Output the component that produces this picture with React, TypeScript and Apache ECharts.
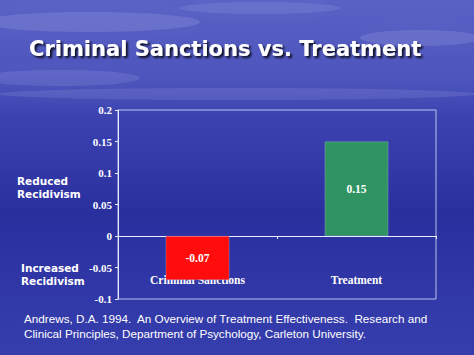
import React, { useEffect, useRef } from "react";
import * as echarts from "echarts";

const categories = ["Criminal Sanctions", "Treatment"];
const values = [-0.07, 0.15];
const barColors = ["#ff0d0d", "#2f9462"];
const yTicks = [-0.1, -0.05, 0, 0.05, 0.1, 0.15, 0.2];

export default function App() {
  const ref = useRef<HTMLDivElement>(null);
  useEffect(() => {
    const chart = echarts.init(ref.current!, undefined, { renderer: "svg" });
    const serif = "'Liberation Serif', 'Times New Roman', serif";
    const sans = "'DejaVu Sans', Verdana, sans-serif";
    const cloud = (cx: number, cy: number, rx: number, ry: number, a: number) => ({
      type: "ellipse", silent: true, shape: { cx, cy, rx, ry },
      style: { fill: `rgba(235,240,255,${a})`, shadowBlur: 18, shadowColor: `rgba(235,240,255,${a})` },
    });
    chart.setOption({
      animation: false,
      backgroundColor: {
        type: "linear", x: 0, y: 0, x2: 0, y2: 1,
        colorStops: [
          { offset: 0, color: "#5a62c6" },
          { offset: 0.22, color: "#4d55bd" },
          { offset: 0.33, color: "#3c43b0" },
          { offset: 0.6, color: "#2a2f9e" },
          { offset: 1, color: "#363ead" },
        ],
      },
      graphic: [
        cloud(90, 22, 110, 10, 0.12),
        cloud(260, 8, 80, 6, 0.1),
        cloud(420, 38, 60, 8, 0.12),
        cloud(60, 78, 80, 8, 0.1),
        cloud(237, 94, 240, 6, 0.1),
        {
          type: "text", left: 29, top: 38,
          style: {
            text: "Criminal Sanctions vs. Treatment",
            fill: "#ffffff", font: `bold 21px ${sans}`,
            textShadowColor: "rgba(0,0,0,0.85)", textShadowBlur: 2, textShadowOffsetX: 2, textShadowOffsetY: 2,
          },
        },
        {
          type: "text", left: 17, top: 174,
          style: { text: "Reduced\nRecidivism", fill: "#ffffff", font: `bold 10.5px ${sans}`, lineHeight: 13.5 },
        },
        {
          type: "text", left: 21, top: 261,
          style: { text: "Increased\nRecidivism", fill: "#ffffff", font: `bold 10.5px ${sans}`, lineHeight: 13.5 },
        },
        {
          type: "text", left: 24, top: 311,
          style: {
            text: "Andrews, D.A. 1994.  An Overview of Treatment Effectiveness.  Research and\nClinical Principles, Department of Psychology, Carleton University.",
            fill: "#ffffff", font: `11.7px 'Liberation Sans', Arial, sans-serif`, lineHeight: 15,
          },
        },
      ],
      grid: {
        left: 118, right: 38, top: 110, bottom: 56,
        show: true, borderColor: "rgba(220,225,255,0.8)", borderWidth: 1,
      },
      xAxis: {
        type: "category",
        data: categories,
        offset: -63,
        axisLine: { onZero: false, lineStyle: { color: "#e8ecff", width: 1 } },
        axisTick: { show: true, length: 3, lineStyle: { color: "#e8ecff" } },
        axisLabel: { margin: 38, color: "#ffffff", fontFamily: serif, fontSize: 11.5, fontWeight: "bold" },
      },
      yAxis: {
        type: "value",
        min: -0.1, max: 0.2, interval: 0.05,
        splitLine: { show: false },
        axisLine: { show: true, lineStyle: { color: "#e8ecff" } },
        axisTick: { show: true, length: 3, lineStyle: { color: "#e8ecff" } },
        axisLabel: {
          color: "#ffffff", fontFamily: serif, fontSize: 11, fontWeight: "bold", margin: 6,
          formatter: (v: number) => {
            const m = yTicks.find((t) => Math.abs(t - v) < 1e-9);
            return String(m !== undefined ? m : +v.toFixed(2));
          },
        },
      },
      series: [
        {
          type: "bar",
          barWidth: "40%",
          data: values.map((v, i) => ({ value: v, itemStyle: { color: barColors[i], borderColor: "rgba(200,220,255,0.5)", borderWidth: 0.5 } })),
          label: {
            show: true, position: "inside", color: "#ffffff",
            fontFamily: serif, fontSize: 11.5, fontWeight: "bold",
          },
        },
      ],
    });
    return () => chart.dispose();
  }, []);
  return <div ref={ref} style={{ width: 474, height: 355, position: "fixed", left: 0, top: 0 }} />;
}
